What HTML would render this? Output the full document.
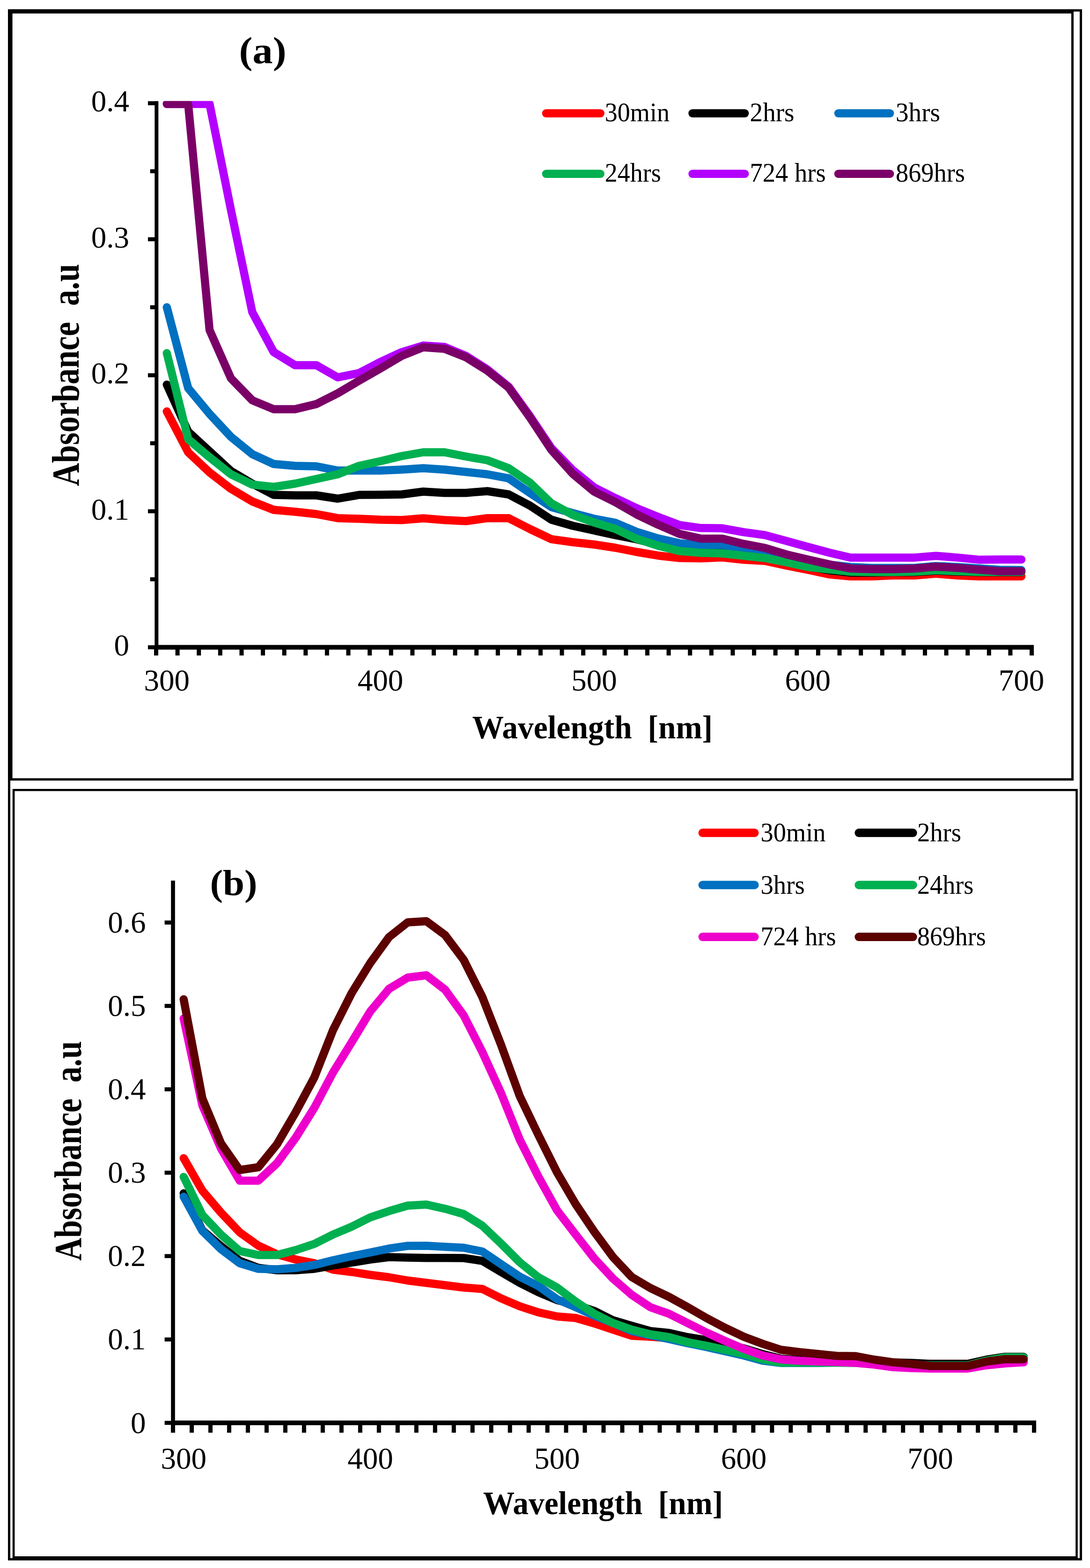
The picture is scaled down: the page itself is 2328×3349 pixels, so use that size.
<!DOCTYPE html>
<html lang="en"><head><meta charset="utf-8"><title>UV-Vis absorbance spectra</title>
<style>html,body{margin:0;padding:0;background:#fff}svg{display:block;width:2328px;height:3349px}text{font-family:"Liberation Serif", "Times New Roman", serif;fill:#000}</style></head><body>
<svg width="2328" height="3349" viewBox="0 0 2328 3349" role="img" aria-label="UV-Vis absorbance spectra, panels (a) and (b)">
<rect width="2328" height="3349" fill="#fff"/>
<g id="frames">
<rect x="19.5" y="22.2" width="2289.0" height="3308.1000000000004" fill="none" stroke="#000" stroke-width="5.0"/>
<rect x="24.1" y="26.3" width="2266.4" height="1638.4" fill="none" stroke="#000" stroke-width="5.0"/>
<rect x="29.1" y="1687.3" width="2270.4" height="1639.0" fill="none" stroke="#000" stroke-width="4.6"/>
</g>
<g id="chart-a">
<rect x="330.3" y="216" width="8.00" height="1171.50" fill="#000"/>
<rect x="330.3" y="1377.5" width="1877.70" height="10.00" fill="#000"/>
<rect x="316" y="1378.2" width="15.00" height="8.60" fill="#000"/>
<rect x="320.7" y="1232.95" width="10.30" height="8.60" fill="#000"/>
<rect x="316" y="1087.7" width="15.00" height="8.60" fill="#000"/>
<rect x="320.7" y="942.45" width="10.30" height="8.60" fill="#000"/>
<rect x="316" y="797.2" width="15.00" height="8.60" fill="#000"/>
<rect x="320.7" y="651.95" width="10.30" height="8.60" fill="#000"/>
<rect x="316" y="506.6999999999999" width="15.00" height="8.60" fill="#000"/>
<rect x="320.7" y="361.4499999999999" width="10.30" height="8.60" fill="#000"/>
<rect x="316" y="216.2" width="15.00" height="8.60" fill="#000"/>
<rect x="329.0" y="1386" width="9.00" height="14.00" fill="#000"/>
<rect x="374.61" y="1386" width="9.00" height="14.00" fill="#000"/>
<rect x="420.22" y="1386" width="9.00" height="14.00" fill="#000"/>
<rect x="465.83" y="1386" width="9.00" height="14.00" fill="#000"/>
<rect x="511.44000000000005" y="1386" width="9.00" height="14.00" fill="#000"/>
<rect x="557.05" y="1386" width="9.00" height="14.00" fill="#000"/>
<rect x="602.66" y="1386" width="9.00" height="14.00" fill="#000"/>
<rect x="648.27" y="1386" width="9.00" height="14.00" fill="#000"/>
<rect x="693.88" y="1386" width="9.00" height="14.00" fill="#000"/>
<rect x="739.49" y="1386" width="9.00" height="14.00" fill="#000"/>
<rect x="785.1" y="1386" width="9.00" height="14.00" fill="#000"/>
<rect x="830.71" y="1386" width="9.00" height="14.00" fill="#000"/>
<rect x="876.3199999999999" y="1386" width="9.00" height="14.00" fill="#000"/>
<rect x="921.93" y="1386" width="9.00" height="14.00" fill="#000"/>
<rect x="967.54" y="1386" width="9.00" height="14.00" fill="#000"/>
<rect x="1013.15" y="1386" width="9.00" height="14.00" fill="#000"/>
<rect x="1058.76" y="1386" width="9.00" height="14.00" fill="#000"/>
<rect x="1104.37" y="1386" width="9.00" height="14.00" fill="#000"/>
<rect x="1149.98" y="1386" width="9.00" height="14.00" fill="#000"/>
<rect x="1195.5900000000001" y="1386" width="9.00" height="14.00" fill="#000"/>
<rect x="1241.2" y="1386" width="9.00" height="14.00" fill="#000"/>
<rect x="1286.81" y="1386" width="9.00" height="14.00" fill="#000"/>
<rect x="1332.42" y="1386" width="9.00" height="14.00" fill="#000"/>
<rect x="1378.03" y="1386" width="9.00" height="14.00" fill="#000"/>
<rect x="1423.6399999999999" y="1386" width="9.00" height="14.00" fill="#000"/>
<rect x="1469.25" y="1386" width="9.00" height="14.00" fill="#000"/>
<rect x="1514.86" y="1386" width="9.00" height="14.00" fill="#000"/>
<rect x="1560.47" y="1386" width="9.00" height="14.00" fill="#000"/>
<rect x="1606.08" y="1386" width="9.00" height="14.00" fill="#000"/>
<rect x="1651.69" y="1386" width="9.00" height="14.00" fill="#000"/>
<rect x="1697.3" y="1386" width="9.00" height="14.00" fill="#000"/>
<rect x="1742.91" y="1386" width="9.00" height="14.00" fill="#000"/>
<rect x="1788.52" y="1386" width="9.00" height="14.00" fill="#000"/>
<rect x="1834.1299999999999" y="1386" width="9.00" height="14.00" fill="#000"/>
<rect x="1879.74" y="1386" width="9.00" height="14.00" fill="#000"/>
<rect x="1925.35" y="1386" width="9.00" height="14.00" fill="#000"/>
<rect x="1970.96" y="1386" width="9.00" height="14.00" fill="#000"/>
<rect x="2016.57" y="1386" width="9.00" height="14.00" fill="#000"/>
<rect x="2062.1800000000003" y="1386" width="9.00" height="14.00" fill="#000"/>
<rect x="2107.79" y="1386" width="9.00" height="14.00" fill="#000"/>
<rect x="2153.4" y="1386" width="9.00" height="14.00" fill="#000"/>
<rect x="2199.01" y="1386" width="9.00" height="14.00" fill="#000"/>
<text transform="translate(276,1400.0)" font-size="65" text-anchor="end" xml:space="preserve" style="white-space:pre">0</text>
<text transform="translate(276,1109.5)" font-size="65" text-anchor="end" xml:space="preserve" style="white-space:pre">0.1</text>
<text transform="translate(276,819.0)" font-size="65" text-anchor="end" xml:space="preserve" style="white-space:pre">0.2</text>
<text transform="translate(276,528.5)" font-size="65" text-anchor="end" xml:space="preserve" style="white-space:pre">0.3</text>
<text transform="translate(276,238.0)" font-size="65" text-anchor="end" xml:space="preserve" style="white-space:pre">0.4</text>
<text transform="translate(356.3,1475)" font-size="65" text-anchor="middle" xml:space="preserve" style="white-space:pre">300</text>
<text transform="translate(812.6,1475)" font-size="65" text-anchor="middle" xml:space="preserve" style="white-space:pre">400</text>
<text transform="translate(1268.9,1475)" font-size="65" text-anchor="middle" xml:space="preserve" style="white-space:pre">500</text>
<text transform="translate(1725.2,1475)" font-size="65" text-anchor="middle" xml:space="preserve" style="white-space:pre">600</text>
<text transform="translate(2181.5,1475)" font-size="65" text-anchor="middle" xml:space="preserve" style="white-space:pre">700</text>
<g id="series-a">
<polyline points="356.3,878.7 401.9,966.0 447.6,1009.0 493.2,1044.0 538.8,1071.0 584.5,1089.0 630.1,1093.0 675.7,1098.0 721.3,1106.7 767.0,1108.0 812.6,1110.0 858.2,1110.7 903.9,1107.0 949.5,1110.7 995.1,1113.0 1040.8,1106.7 1086.4,1106.7 1132.0,1130.0 1177.6,1151.7 1223.3,1158.0 1268.9,1163.0 1314.5,1170.0 1360.2,1179.0 1405.8,1186.7 1451.4,1191.7 1497.0,1192.5 1542.7,1190.5 1588.3,1195.5 1633.9,1198.0 1679.6,1208.0 1725.2,1217.0 1770.8,1226.7 1816.5,1231.0 1862.1,1231.0 1907.7,1229.0 1953.4,1229.0 1999.0,1225.4 2044.6,1229.0 2090.2,1231.0 2135.9,1231.0 2181.5,1231.0" fill="none" stroke="#ff0000" stroke-width="17.5" stroke-linecap="round" stroke-linejoin="round"/>
<polyline points="356.3,821.5 401.9,922.0 447.6,964.0 493.2,1006.0 538.8,1033.0 584.5,1057.0 630.1,1058.0 675.7,1058.0 721.3,1065.0 767.0,1057.0 812.6,1056.7 858.2,1056.0 903.9,1050.0 949.5,1052.7 995.1,1052.7 1040.8,1049.0 1086.4,1056.0 1132.0,1080.0 1177.6,1110.0 1223.3,1123.0 1268.9,1133.0 1314.5,1143.0 1360.2,1152.0 1405.8,1163.0 1451.4,1175.0 1497.0,1179.0 1542.7,1180.0 1588.3,1185.0 1633.9,1190.0 1679.6,1200.0 1725.2,1210.0 1770.8,1218.0 1816.5,1223.0 1862.1,1223.0 1907.7,1222.0 1953.4,1222.0 1999.0,1219.0 2044.6,1221.0 2090.2,1222.0 2135.9,1222.0 2181.5,1222.0" fill="none" stroke="#000000" stroke-width="17.5" stroke-linecap="round" stroke-linejoin="round"/>
<polyline points="356.3,656.3 401.9,829.0 447.6,884.0 493.2,933.0 538.8,970.0 584.5,991.0 630.1,995.0 675.7,996.0 721.3,1005.0 767.0,1005.0 812.6,1005.0 858.2,1003.0 903.9,1000.0 949.5,1003.0 995.1,1008.0 1040.8,1013.0 1086.4,1021.7 1132.0,1053.0 1177.6,1083.0 1223.3,1096.0 1268.9,1108.0 1314.5,1116.7 1360.2,1136.0 1405.8,1150.0 1451.4,1160.4 1497.0,1164.0 1542.7,1164.0 1588.3,1172.0 1633.9,1178.0 1679.6,1190.0 1725.2,1198.0 1770.8,1206.0 1816.5,1211.0 1862.1,1213.0 1907.7,1213.0 1953.4,1213.0 1999.0,1209.0 2044.6,1211.0 2090.2,1214.0 2135.9,1217.0 2181.5,1217.5" fill="none" stroke="#0070c0" stroke-width="17.5" stroke-linecap="round" stroke-linejoin="round"/>
<polyline points="356.3,754.3 401.9,938.0 447.6,976.7 493.2,1013.0 538.8,1035.0 584.5,1040.0 630.1,1033.0 675.7,1023.0 721.3,1013.0 767.0,995.0 812.6,985.0 858.2,974.0 903.9,966.0 949.5,966.0 995.1,975.0 1040.8,983.0 1086.4,1000.0 1132.0,1031.0 1177.6,1075.0 1223.3,1099.7 1268.9,1116.0 1314.5,1129.7 1360.2,1151.0 1405.8,1165.7 1451.4,1177.0 1497.0,1180.7 1542.7,1182.0 1588.3,1187.0 1633.9,1192.0 1679.6,1201.0 1725.2,1211.0 1770.8,1216.0 1816.5,1221.0 1862.1,1221.7 1907.7,1221.7 1953.4,1221.0 1999.0,1218.0 2044.6,1220.0 2090.2,1221.5 2135.9,1221.5 2181.5,1221.5" fill="none" stroke="#00b050" stroke-width="17.5" stroke-linecap="round" stroke-linejoin="round"/>
<polyline points="356.3,222.0 401.9,222.0 447.6,222.0 493.2,448.0 538.8,666.7 584.5,752.0 630.1,780.0 675.7,780.0 721.3,806.0 767.0,796.7 812.6,773.0 858.2,752.0 903.9,738.0 949.5,741.0 995.1,760.0 1040.8,789.0 1086.4,826.0 1132.0,889.0 1177.6,957.0 1223.3,1004.0 1268.9,1041.0 1314.5,1064.0 1360.2,1085.7 1405.8,1104.0 1451.4,1121.5 1497.0,1127.8 1542.7,1128.3 1588.3,1136.6 1633.9,1142.9 1679.6,1155.4 1725.2,1168.0 1770.8,1180.3 1816.5,1190.9 1862.1,1190.9 1907.7,1190.9 1953.4,1190.9 1999.0,1187.3 2044.6,1190.9 2090.2,1195.4 2135.9,1195.0 2181.5,1195.0" fill="none" stroke="#b400ff" stroke-width="17.5" stroke-linecap="round" stroke-linejoin="round"/>
<polyline points="356.3,222.0 401.9,222.0 447.6,705.0 493.2,808.0 538.8,855.0 584.5,874.0 630.1,874.0 675.7,863.0 721.3,840.0 767.0,813.0 812.6,787.0 858.2,760.0 903.9,741.7 949.5,745.0 995.1,763.0 1040.8,791.7 1086.4,828.0 1132.0,892.0 1177.6,961.0 1223.3,1012.0 1268.9,1050.0 1314.5,1072.7 1360.2,1099.0 1405.8,1120.8 1451.4,1140.4 1497.0,1150.4 1542.7,1150.4 1588.3,1161.7 1633.9,1170.4 1679.6,1184.2 1725.2,1195.0 1770.8,1205.4 1816.5,1214.2 1862.1,1215.4 1907.7,1215.4 1953.4,1214.2 1999.0,1210.4 2044.6,1212.9 2090.2,1216.7 2135.9,1220.0 2181.5,1220.0" fill="none" stroke="#7a0068" stroke-width="17.5" stroke-linecap="round" stroke-linejoin="round"/>
</g>
<rect x="340" y="200" width="140.00" height="15.70" fill="#fff"/>
<line x1="1166.5" y1="242" x2="1282.2" y2="242" stroke="#ff0000" stroke-width="17.6" stroke-linecap="round"/>
<text transform="translate(1291.7,259.3)" font-size="56" textLength="138.3" lengthAdjust="spacingAndGlyphs" xml:space="preserve" style="white-space:pre">30min</text>
<line x1="1479.1" y1="242" x2="1590.6" y2="242" stroke="#000000" stroke-width="17.6" stroke-linecap="round"/>
<text transform="translate(1601.6,259.3)" font-size="56" textLength="95" lengthAdjust="spacingAndGlyphs" xml:space="preserve" style="white-space:pre">2hrs</text>
<line x1="1790.6" y1="242" x2="1900.6" y2="242" stroke="#0070c0" stroke-width="17.6" stroke-linecap="round"/>
<text transform="translate(1913,259.3)" font-size="56" textLength="95" lengthAdjust="spacingAndGlyphs" xml:space="preserve" style="white-space:pre">3hrs</text>
<line x1="1166.5" y1="371.2" x2="1282.2" y2="371.2" stroke="#00b050" stroke-width="17.6" stroke-linecap="round"/>
<text transform="translate(1291.7,388.3)" font-size="56" textLength="120" lengthAdjust="spacingAndGlyphs" xml:space="preserve" style="white-space:pre">24hrs</text>
<line x1="1479.1" y1="371.2" x2="1590.6" y2="371.2" stroke="#b400ff" stroke-width="17.6" stroke-linecap="round"/>
<text transform="translate(1601.6,388.3)" font-size="56" textLength="162" lengthAdjust="spacingAndGlyphs" xml:space="preserve" style="white-space:pre">724 hrs</text>
<line x1="1790.6" y1="371.2" x2="1900.6" y2="371.2" stroke="#7a0068" stroke-width="17.6" stroke-linecap="round"/>
<text transform="translate(1913,388.3)" font-size="56" textLength="148" lengthAdjust="spacingAndGlyphs" xml:space="preserve" style="white-space:pre">869hrs</text>
<text transform="translate(510.5,135.2)" font-size="80" font-weight="bold" textLength="101" lengthAdjust="spacingAndGlyphs" xml:space="preserve" style="white-space:pre">(a)</text>
<text transform="translate(1008.6,1577) scale(1,1.03)" font-size="67" font-weight="bold" textLength="513.5" lengthAdjust="spacingAndGlyphs" xml:space="preserve" style="white-space:pre">Wavelength  [nm]</text>
<text transform="translate(167.6,1038.2) rotate(-90) scale(1,1.2)" font-size="68.6" font-weight="bold" textLength="474.5" lengthAdjust="spacingAndGlyphs" xml:space="preserve" style="white-space:pre">Absorbance  a.u</text>
</g>
<g id="chart-b">
<rect x="365.2" y="1880.8" width="8.60" height="1163.20" fill="#000"/>
<rect x="365.2" y="3034" width="1847.80" height="10.00" fill="#000"/>
<rect x="351.6" y="3034.7" width="14.40" height="8.60" fill="#000"/>
<rect x="351.6" y="2856.6" width="14.40" height="8.60" fill="#000"/>
<rect x="351.6" y="2678.5" width="14.40" height="8.60" fill="#000"/>
<rect x="351.6" y="2500.3999999999996" width="14.40" height="8.60" fill="#000"/>
<rect x="351.6" y="2322.2999999999997" width="14.40" height="8.60" fill="#000"/>
<rect x="351.6" y="2144.2" width="14.40" height="8.60" fill="#000"/>
<rect x="351.6" y="1966.1000000000001" width="14.40" height="8.60" fill="#000"/>
<rect x="365.0" y="3043" width="9.00" height="17.00" fill="#000"/>
<rect x="404.98" y="3043" width="9.00" height="17.00" fill="#000"/>
<rect x="444.96" y="3043" width="9.00" height="17.00" fill="#000"/>
<rect x="484.94" y="3043" width="9.00" height="17.00" fill="#000"/>
<rect x="524.92" y="3043" width="9.00" height="17.00" fill="#000"/>
<rect x="564.9" y="3043" width="9.00" height="17.00" fill="#000"/>
<rect x="604.88" y="3043" width="9.00" height="17.00" fill="#000"/>
<rect x="644.8599999999999" y="3043" width="9.00" height="17.00" fill="#000"/>
<rect x="684.8399999999999" y="3043" width="9.00" height="17.00" fill="#000"/>
<rect x="724.8199999999999" y="3043" width="9.00" height="17.00" fill="#000"/>
<rect x="764.8" y="3043" width="9.00" height="17.00" fill="#000"/>
<rect x="804.78" y="3043" width="9.00" height="17.00" fill="#000"/>
<rect x="844.76" y="3043" width="9.00" height="17.00" fill="#000"/>
<rect x="884.74" y="3043" width="9.00" height="17.00" fill="#000"/>
<rect x="924.7199999999999" y="3043" width="9.00" height="17.00" fill="#000"/>
<rect x="964.6999999999999" y="3043" width="9.00" height="17.00" fill="#000"/>
<rect x="1004.68" y="3043" width="9.00" height="17.00" fill="#000"/>
<rect x="1044.6599999999999" y="3043" width="9.00" height="17.00" fill="#000"/>
<rect x="1084.6399999999999" y="3043" width="9.00" height="17.00" fill="#000"/>
<rect x="1124.62" y="3043" width="9.00" height="17.00" fill="#000"/>
<rect x="1164.6" y="3043" width="9.00" height="17.00" fill="#000"/>
<rect x="1204.58" y="3043" width="9.00" height="17.00" fill="#000"/>
<rect x="1244.56" y="3043" width="9.00" height="17.00" fill="#000"/>
<rect x="1284.54" y="3043" width="9.00" height="17.00" fill="#000"/>
<rect x="1324.52" y="3043" width="9.00" height="17.00" fill="#000"/>
<rect x="1364.5" y="3043" width="9.00" height="17.00" fill="#000"/>
<rect x="1404.48" y="3043" width="9.00" height="17.00" fill="#000"/>
<rect x="1444.4599999999998" y="3043" width="9.00" height="17.00" fill="#000"/>
<rect x="1484.4399999999998" y="3043" width="9.00" height="17.00" fill="#000"/>
<rect x="1524.4199999999998" y="3043" width="9.00" height="17.00" fill="#000"/>
<rect x="1564.3999999999999" y="3043" width="9.00" height="17.00" fill="#000"/>
<rect x="1604.3799999999999" y="3043" width="9.00" height="17.00" fill="#000"/>
<rect x="1644.36" y="3043" width="9.00" height="17.00" fill="#000"/>
<rect x="1684.34" y="3043" width="9.00" height="17.00" fill="#000"/>
<rect x="1724.32" y="3043" width="9.00" height="17.00" fill="#000"/>
<rect x="1764.3" y="3043" width="9.00" height="17.00" fill="#000"/>
<rect x="1804.28" y="3043" width="9.00" height="17.00" fill="#000"/>
<rect x="1844.26" y="3043" width="9.00" height="17.00" fill="#000"/>
<rect x="1884.2399999999998" y="3043" width="9.00" height="17.00" fill="#000"/>
<rect x="1924.2199999999998" y="3043" width="9.00" height="17.00" fill="#000"/>
<rect x="1964.1999999999998" y="3043" width="9.00" height="17.00" fill="#000"/>
<rect x="2004.1799999999998" y="3043" width="9.00" height="17.00" fill="#000"/>
<rect x="2044.1599999999999" y="3043" width="9.00" height="17.00" fill="#000"/>
<rect x="2084.14" y="3043" width="9.00" height="17.00" fill="#000"/>
<rect x="2124.12" y="3043" width="9.00" height="17.00" fill="#000"/>
<rect x="2164.1" y="3043" width="9.00" height="17.00" fill="#000"/>
<rect x="2204.08" y="3043" width="9.00" height="17.00" fill="#000"/>
<text transform="translate(311.6,3060.5)" font-size="65" text-anchor="end" xml:space="preserve" style="white-space:pre">0</text>
<text transform="translate(311.6,2882.4)" font-size="65" text-anchor="end" xml:space="preserve" style="white-space:pre">0.1</text>
<text transform="translate(311.6,2704.3)" font-size="65" text-anchor="end" xml:space="preserve" style="white-space:pre">0.2</text>
<text transform="translate(311.6,2526.2)" font-size="65" text-anchor="end" xml:space="preserve" style="white-space:pre">0.3</text>
<text transform="translate(311.6,2348.1)" font-size="65" text-anchor="end" xml:space="preserve" style="white-space:pre">0.4</text>
<text transform="translate(311.6,2170.0)" font-size="65" text-anchor="end" xml:space="preserve" style="white-space:pre">0.5</text>
<text transform="translate(311.6,1991.9)" font-size="65" text-anchor="end" xml:space="preserve" style="white-space:pre">0.6</text>
<text transform="translate(392.3,3136.5)" font-size="65" text-anchor="middle" xml:space="preserve" style="white-space:pre">300</text>
<text transform="translate(791.0,3136.5)" font-size="65" text-anchor="middle" xml:space="preserve" style="white-space:pre">400</text>
<text transform="translate(1189.7,3136.5)" font-size="65" text-anchor="middle" xml:space="preserve" style="white-space:pre">500</text>
<text transform="translate(1588.4,3136.5)" font-size="65" text-anchor="middle" xml:space="preserve" style="white-space:pre">600</text>
<text transform="translate(1987.1,3136.5)" font-size="65" text-anchor="middle" xml:space="preserve" style="white-space:pre">700</text>
<polyline points="392.3,2473.7 432.2,2543.0 472.0,2590.0 511.9,2632.0 551.8,2660.5 591.6,2679.0 631.5,2690.0 671.4,2698.0 711.3,2711.7 751.1,2716.7 791.0,2723.0 830.9,2728.0 870.7,2735.0 910.6,2740.0 950.5,2745.0 990.3,2750.0 1030.2,2753.0 1070.1,2773.0 1110.0,2790.0 1149.8,2803.0 1189.7,2811.7 1229.6,2815.0 1269.4,2826.7 1309.3,2840.0 1349.2,2853.0 1389.0,2855.0 1428.9,2858.0 1468.8,2867.0 1508.7,2875.0 1548.5,2884.0 1588.4,2892.0 1628.3,2903.0 1668.1,2910.0 1708.0,2910.0 1747.9,2910.0 1787.7,2910.0 1827.6,2910.0 1867.5,2912.0 1907.4,2913.0 1947.2,2913.0 1987.1,2913.0 2027.0,2913.0 2066.8,2913.0 2106.7,2908.0 2146.6,2904.0 2186.4,2904.0" fill="none" stroke="#ff0000" stroke-width="17.5" stroke-linecap="round" stroke-linejoin="round"/>
<polyline points="392.3,2548.7 432.2,2628.0 472.0,2661.7 511.9,2693.0 551.8,2708.0 591.6,2713.0 631.5,2713.0 671.4,2710.0 711.3,2703.0 751.1,2696.7 791.0,2690.0 830.9,2685.0 870.7,2686.0 910.6,2686.7 950.5,2686.7 990.3,2687.0 1030.2,2693.0 1070.1,2716.7 1110.0,2740.0 1149.8,2760.0 1189.7,2776.7 1229.6,2786.7 1269.4,2800.0 1309.3,2820.0 1349.2,2831.7 1389.0,2843.0 1428.9,2847.0 1468.8,2856.0 1508.7,2862.5 1548.5,2870.5 1588.4,2880.0 1628.3,2892.0 1668.1,2902.0 1708.0,2905.0 1747.9,2906.0 1787.7,2906.0 1827.6,2906.0 1867.5,2908.0 1907.4,2910.0 1947.2,2911.0 1987.1,2913.0 2027.0,2913.0 2066.8,2913.0 2106.7,2904.0 2146.6,2898.0 2186.4,2898.0" fill="none" stroke="#000000" stroke-width="17.5" stroke-linecap="round" stroke-linejoin="round"/>
<polyline points="392.3,2556.0 432.2,2629.0 472.0,2668.0 511.9,2698.0 551.8,2710.0 591.6,2711.0 631.5,2708.0 671.4,2701.7 711.3,2691.7 751.1,2683.0 791.0,2675.0 830.9,2666.7 870.7,2661.0 910.6,2660.7 950.5,2663.0 990.3,2665.0 1030.2,2673.0 1070.1,2700.0 1110.0,2726.7 1149.8,2746.7 1189.7,2775.0 1229.6,2792.0 1269.4,2810.0 1309.3,2826.0 1349.2,2843.0 1389.0,2852.0 1428.9,2860.0 1468.8,2869.0 1508.7,2877.0 1548.5,2886.0 1588.4,2895.0 1628.3,2906.0 1668.1,2911.0 1708.0,2911.0 1747.9,2911.0 1787.7,2910.0 1827.6,2910.0 1867.5,2911.0 1907.4,2915.0 1947.2,2916.0 1987.1,2916.5 2027.0,2916.5 2066.8,2916.5 2106.7,2908.0 2146.6,2904.0 2186.4,2904.0" fill="none" stroke="#0070c0" stroke-width="17.5" stroke-linecap="round" stroke-linejoin="round"/>
<polyline points="392.3,2513.7 432.2,2595.0 472.0,2637.0 511.9,2672.0 551.8,2680.5 591.6,2680.5 631.5,2670.0 671.4,2656.7 711.3,2636.7 751.1,2620.0 791.0,2600.0 830.9,2586.7 870.7,2575.0 910.6,2572.7 950.5,2581.7 990.3,2593.0 1030.2,2618.0 1070.1,2656.0 1110.0,2696.0 1149.8,2728.0 1189.7,2750.0 1229.6,2780.0 1269.4,2806.0 1309.3,2826.0 1349.2,2840.0 1389.0,2850.0 1428.9,2856.0 1468.8,2866.8 1508.7,2874.3 1548.5,2883.0 1588.4,2891.9 1628.3,2903.0 1668.1,2910.6 1708.0,2910.6 1747.9,2910.6 1787.7,2910.6 1827.6,2911.0 1867.5,2913.0 1907.4,2916.0 1947.2,2916.0 1987.1,2916.5 2027.0,2916.5 2066.8,2916.5 2106.7,2906.0 2146.6,2899.0 2186.4,2899.0" fill="none" stroke="#00b050" stroke-width="17.5" stroke-linecap="round" stroke-linejoin="round"/>
<polyline points="392.3,2175.3 432.2,2361.0 472.0,2453.0 511.9,2521.7 551.8,2521.7 591.6,2484.5 631.5,2430.0 671.4,2366.0 711.3,2290.5 751.1,2226.0 791.0,2160.0 830.9,2112.0 870.7,2088.0 910.6,2083.0 950.5,2113.7 990.3,2168.6 1030.2,2247.0 1070.1,2334.5 1110.0,2434.0 1149.8,2513.0 1189.7,2585.0 1229.6,2637.0 1269.4,2688.0 1309.3,2731.0 1349.2,2765.5 1389.0,2792.0 1428.9,2806.0 1468.8,2826.0 1508.7,2846.0 1548.5,2864.0 1588.4,2881.0 1628.3,2895.0 1668.1,2903.5 1708.0,2906.5 1747.9,2908.0 1787.7,2909.0 1827.6,2910.7 1867.5,2914.6 1907.4,2920.0 1947.2,2922.0 1987.1,2923.0 2027.0,2923.0 2066.8,2923.0 2106.7,2916.0 2146.6,2912.0 2186.4,2909.6" fill="none" stroke="#ee00cc" stroke-width="17.5" stroke-linecap="round" stroke-linejoin="round"/>
<polyline points="392.3,2134.3 432.2,2346.0 472.0,2442.0 511.9,2499.0 551.8,2493.0 591.6,2444.0 631.5,2375.5 671.4,2301.0 711.3,2200.0 751.1,2121.0 791.0,2056.5 830.9,2001.5 870.7,1970.0 910.6,1967.5 950.5,1997.0 990.3,2050.0 1030.2,2129.5 1070.1,2231.5 1110.0,2341.0 1149.8,2424.0 1189.7,2504.0 1229.6,2572.0 1269.4,2631.0 1309.3,2685.0 1349.2,2727.5 1389.0,2751.0 1428.9,2770.0 1468.8,2792.0 1508.7,2815.0 1548.5,2836.0 1588.4,2855.0 1628.3,2870.0 1668.1,2883.0 1708.0,2888.0 1747.9,2892.0 1787.7,2896.0 1827.6,2896.5 1867.5,2904.0 1907.4,2909.6 1947.2,2913.0 1987.1,2917.5 2027.0,2917.5 2066.8,2917.5 2106.7,2908.0 2146.6,2903.0 2186.4,2903.0" fill="none" stroke="#5c0000" stroke-width="17.5" stroke-linecap="round" stroke-linejoin="round"/>
<line x1="1500.6" y1="1778.8" x2="1611.5" y2="1778.8" stroke="#ff0000" stroke-width="18" stroke-linecap="round"/>
<text transform="translate(1624.5,1796.8)" font-size="56" textLength="139" lengthAdjust="spacingAndGlyphs" xml:space="preserve" style="white-space:pre">30min</text>
<line x1="1834.4" y1="1778.8" x2="1949.7" y2="1778.8" stroke="#000000" stroke-width="18" stroke-linecap="round"/>
<text transform="translate(1959,1796.8)" font-size="56" textLength="94" lengthAdjust="spacingAndGlyphs" xml:space="preserve" style="white-space:pre">2hrs</text>
<line x1="1500.6" y1="1890.2" x2="1611.5" y2="1890.2" stroke="#0070c0" stroke-width="18" stroke-linecap="round"/>
<text transform="translate(1624.5,1908.6)" font-size="56" textLength="94.3" lengthAdjust="spacingAndGlyphs" xml:space="preserve" style="white-space:pre">3hrs</text>
<line x1="1834.4" y1="1890.2" x2="1949.7" y2="1890.2" stroke="#00b050" stroke-width="18" stroke-linecap="round"/>
<text transform="translate(1959,1908.6)" font-size="56" textLength="120.3" lengthAdjust="spacingAndGlyphs" xml:space="preserve" style="white-space:pre">24hrs</text>
<line x1="1500.6" y1="2001.1" x2="1611.5" y2="2001.1" stroke="#ee00cc" stroke-width="18" stroke-linecap="round"/>
<text transform="translate(1624.5,2019.0)" font-size="56" textLength="161" lengthAdjust="spacingAndGlyphs" xml:space="preserve" style="white-space:pre">724 hrs</text>
<line x1="1834.4" y1="2001.1" x2="1949.7" y2="2001.1" stroke="#5c0000" stroke-width="18" stroke-linecap="round"/>
<text transform="translate(1959,2019.0)" font-size="56" textLength="146.6" lengthAdjust="spacingAndGlyphs" xml:space="preserve" style="white-space:pre">869hrs</text>
<text transform="translate(448.5,1911.7)" font-size="78" font-weight="bold" textLength="101" lengthAdjust="spacingAndGlyphs" xml:space="preserve" style="white-space:pre">(b)</text>
<text transform="translate(1031.7,3234) scale(1,1.03)" font-size="67" font-weight="bold" textLength="512.5" lengthAdjust="spacingAndGlyphs" xml:space="preserve" style="white-space:pre">Wavelength  [nm]</text>
<text transform="translate(173.2,2692.8) rotate(-90) scale(1,1.2)" font-size="68" font-weight="bold" textLength="469.3" lengthAdjust="spacingAndGlyphs" xml:space="preserve" style="white-space:pre">Absorbance  a.u</text>
</g>
</svg></body></html>
